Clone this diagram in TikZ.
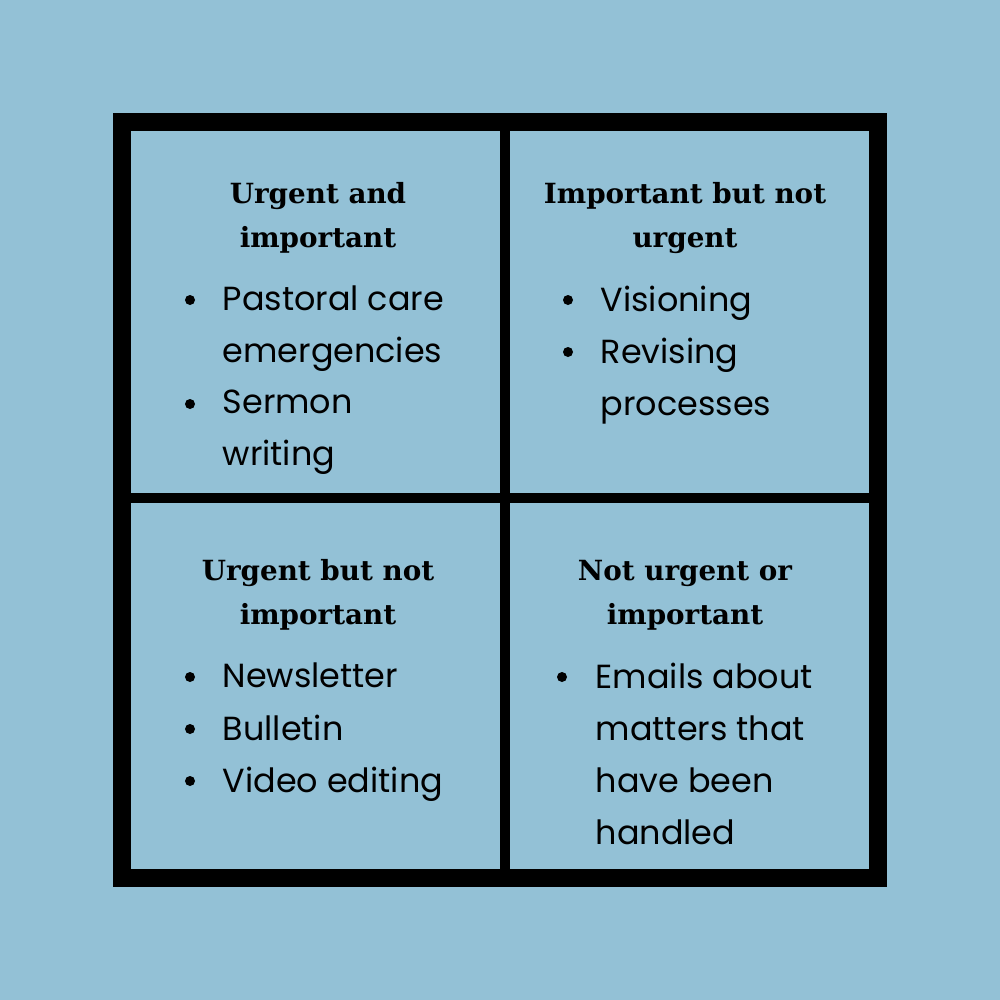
\documentclass[tikz,border=0pt]{standalone}
\usepackage{fontspec}
\setmainfont{DejaVu Serif}
\newfontfamily\bodyf{Poppins}
\definecolor{bg}{HTML}{93C1D6}
\begin{document}
\begin{tikzpicture}[x=0.01cm,y=-0.01cm,
  head/.style={font=\bfseries\fontsize{7.9}{12.5}\selectfont,align=center,inner sep=0},
  item/.style={font=\bodyf\fontsize{9.5}{14.8}\selectfont,align=left,anchor=north west,inner sep=0},
  dot/.style={circle,fill=black,inner sep=0,minimum size=0.1cm}]
\fill[bg] (0,0) rectangle (1000,1000);
\useasboundingbox (0,0) rectangle (1000,1000);
\draw[line width=5.1pt] (122,122) rectangle (878,878);
\draw[line width=2.85pt] (505,122) -- (505,878);
\draw[line width=2.85pt] (122,498) -- (878,498);
% top left
\node[head] (h1) at (318,218) {Urgent and\\important};
\node[dot] (d1a) at (190,300) {};
\node[item] (t1a) at (222,285) {Pastoral care\\emergencies};
\node[dot] (d1b) at (190,404) {};
\node[item] (t1b) at (222,389) {Sermon\\writing};
% top right
\node[head] (h2) at (685,218) {Important but not\\urgent};
\node[dot] (d2a) at (568,300) {};
\node[item] (t2a) at (600,285) {Visioning};
\node[dot] (d2b) at (568,352) {};
\node[item] (t2b) at (600,337) {Revising\\processes};
% bottom left
\node[head] (h3) at (318,595) {Urgent but not\\important};
\node[dot] (d3a) at (190,677) {};
\node[item] (t3a) at (222,662) {Newsletter};
\node[dot] (d3b) at (190,729) {};
\node[item] (t3b) at (222,714) {Bulletin};
\node[dot] (d3c) at (190,781) {};
\node[item] (t3c) at (222,766) {Video editing};
% bottom right
\node[head] (h4) at (685,595) {Not urgent or\\important};
\node[dot] (d4a) at (562,677) {};
\node[item] (t4a) at (595,662) {Emails about\\matters that\\have been\\handled};
\end{tikzpicture}
\end{document}
